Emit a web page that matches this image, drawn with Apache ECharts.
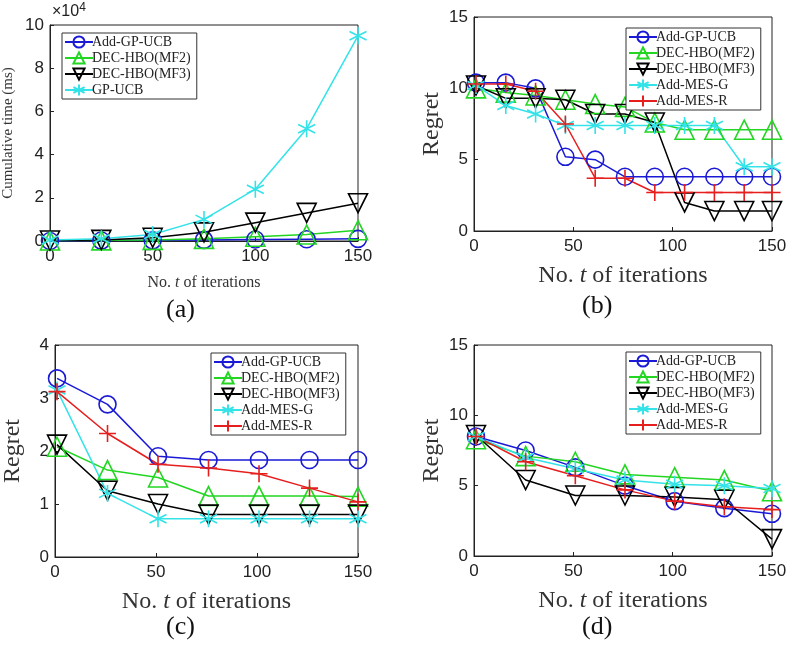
<!DOCTYPE html>
<html><head><meta charset="utf-8">
<script src="https://cdn.jsdelivr.net/npm/echarts@6/dist/echarts.min.js"></script>
<style>html,body{margin:0;padding:0;background:#fff}#c{width:790px;height:656px}</style>
</head><body><div id="c"></div>
<script>
// Panel (a): cumulative time, units of 1e4 ms
const xA = [0, 25, 50, 75, 100, 125, 150];
const aAddGP = [0, 0.02, 0.03, 0.05, 0.07, 0.08, 0.1];
const aMF2 = [0.02, 0.03, 0.05, 0.1, 0.2, 0.3, 0.5];
const aMF3 = [0.02, 0.05, 0.15, 0.4, 0.85, 1.3, 1.75];
const aGP = [0.05, 0.1, 0.3, 1.0, 2.4, 5.2, 9.5];
// Panel (b)
const xB = [1, 16, 31, 46, 61, 76, 91, 106, 121, 136, 150];
const bAddGP = [10.4, 10.4, 10.0, 5.2, 5.0, 3.8, 3.8, 3.8, 3.8, 3.8, 3.8];
const bMF2 = [10.0, 9.7, 9.5, 9.2, 8.9, 8.7, 7.6, 7.1, 7.1, 7.1, 7.1];
const bMF3 = [10.2, 9.3, 9.3, 9.2, 8.2, 8.2, 7.6, 2.0, 1.4, 1.4, 1.4];
const bMESG = [10.2, 8.8, 8.2, 7.4, 7.4, 7.4, 7.4, 7.4, 7.4, 4.5, 4.5];
const bMESR = [10.3, 10.3, 9.8, 7.5, 3.7, 3.7, 2.7, 2.7, 2.7, 2.7, 2.7];
// Panels (c), (d)
const xCD = [1, 26, 51, 76, 101, 126, 150];
const cAddGP = [3.37, 2.88, 1.9, 1.83, 1.83, 1.83, 1.83];
const cMF2 = [2.08, 1.64, 1.5, 1.15, 1.15, 1.15, 1.14];
const cMF3 = [2.12, 1.25, 1.0, 0.8, 0.8, 0.8, 0.8];
const cMESG = [3.15, 1.2, 0.72, 0.72, 0.72, 0.72, 0.72];
const cMESR = [3.12, 2.33, 1.75, 1.68, 1.57, 1.3, 1.04];
const dAddGP = [8.5, 7.5, 6.3, 5.0, 3.9, 3.4, 3.0];
const dMF2 = [8.3, 7.1, 6.7, 5.8, 5.6, 5.4, 4.6];
const dMF3 = [8.6, 5.4, 4.3, 4.3, 4.2, 4.0, 1.2];
const dMESG = [8.5, 7.0, 6.2, 5.4, 5.1, 5.0, 4.8];
const dMESR = [8.5, 6.7, 5.7, 4.7, 3.9, 3.5, 3.3];

const sty = {
  'Add-GP-UCB': {c: '#1a1ad6', s: 'circle', r: 0},
  'DEC-HBO(MF2)': {c: '#22d622', s: 'triangle', r: 0},
  'DEC-HBO(MF3)': {c: '#000000', s: 'triangle', r: 180},
  'Add-MES-G': {c: '#33e3e8', s: 'path://M0,-1L0,1M-0.87,-0.5L0.87,0.5M-0.87,0.5L0.87,-0.5', r: 0},
  'GP-UCB': {c: '#33e3e8', s: 'path://M0,-1L0,1M-0.87,-0.5L0.87,0.5M-0.87,0.5L0.87,-0.5', r: 0},
  'Add-MES-R': {c: '#e61e1e', s: 'path://M0,-1L0,1M-1,0L1,0', r: 0}
};
function ser(name, xs, ys, idx) {
  const st = sty[name];
  return {
    type: 'line', name, xAxisIndex: idx, yAxisIndex: idx,
    data: xs.map((x, i) => [x, ys[i]]),
    symbol: st.s, symbolRotate: st.r, symbolSize: name.startsWith('DEC') ? 19 : 17,
    showSymbol: true,
    lineStyle: {color: st.c, width: 1.5},
    itemStyle: {color: 'rgba(0,0,0,0)', borderColor: st.c, borderWidth: 1.6},
    emphasis: {disabled: true}, animation: false
  };
}
const grids = [
  {left: 50, top: 25, width: 308, height: 216},
  {left: 474, top: 17, width: 298, height: 214},
  {left: 50, top: 345, width: 308, height: 212},
  {left: 474, top: 345, width: 298, height: 211}
];
const yConf = [
  {max: 10, interval: 2, name: 'Cumulative time (ms)', fs: 15, gap: 34},
  {max: 15, interval: 5, name: 'Regret', fs: 24, gap: 30},
  {max: 4, interval: 1, name: 'Regret', fs: 24, gap: 30},
  {max: 15, interval: 5, name: 'Regret', fs: 24, gap: 30}
];
const xAxis = grids.map((g, i) => ({
  type: 'value', gridIndex: i, min: 0, max: 150, interval: 50,
  name: '{n|No. }{t|t}{n| of iterations}', nameLocation: 'middle', nameGap: i === 0 ? 34 : 33,
  nameTextStyle: {rich: {
    n: {fontFamily: 'Liberation Serif', fontSize: i === 0 ? 16 : 24, color: '#333'},
    t: {fontFamily: 'Liberation Serif', fontStyle: 'italic', fontSize: i === 0 ? 16 : 24, color: '#333'}}},
  axisLine: {show: true, lineStyle: {color: '#222'}},
  axisTick: {inside: true, length: 4, lineStyle: {color: '#222'}},
  axisLabel: {fontFamily: 'Liberation Sans', fontSize: 17, color: '#222', margin: 7},
  splitLine: {show: false}
}));
const yAxis = grids.map((g, i) => ({
  type: 'value', gridIndex: i, min: 0, max: yConf[i].max, interval: yConf[i].interval,
  name: yConf[i].name, nameLocation: 'middle', nameGap: yConf[i].gap,
  nameTextStyle: {fontFamily: 'Liberation Serif', fontSize: yConf[i].fs, color: '#333'},
  axisLine: {show: true, lineStyle: {color: '#222'}},
  axisTick: {inside: true, length: 4, lineStyle: {color: '#222'}},
  axisLabel: {fontFamily: 'Liberation Sans', fontSize: 17, color: '#222', margin: 6},
  splitLine: {show: false}
}));
const series = [
  ser('Add-GP-UCB', xA, aAddGP, 0), ser('DEC-HBO(MF2)', xA, aMF2, 0), ser('DEC-HBO(MF3)', xA, aMF3, 0), ser('GP-UCB', xA, aGP, 0),
  ser('Add-GP-UCB', xB, bAddGP, 1), ser('DEC-HBO(MF2)', xB, bMF2, 1), ser('DEC-HBO(MF3)', xB, bMF3, 1), ser('Add-MES-G', xB, bMESG, 1), ser('Add-MES-R', xB, bMESR, 1),
  ser('Add-GP-UCB', xCD, cAddGP, 2), ser('DEC-HBO(MF2)', xCD, cMF2, 2), ser('DEC-HBO(MF3)', xCD, cMF3, 2), ser('Add-MES-G', xCD, cMESG, 2), ser('Add-MES-R', xCD, cMESR, 2),
  ser('Add-GP-UCB', xCD, dAddGP, 3), ser('DEC-HBO(MF2)', xCD, dMF2, 3), ser('DEC-HBO(MF3)', xCD, dMF3, 3), ser('Add-MES-G', xCD, dMESG, 3), ser('Add-MES-R', xCD, dMESR, 3)
];
function leg(left, top, data) {
  return {left, top, data, orient: 'vertical', itemGap: 2, itemWidth: 28, itemHeight: 14,
    selectedMode: false, borderColor: '#333', borderWidth: 1, padding: [2, 6, 2, 2],
    backgroundColor: '#fff',
    textStyle: {fontFamily: 'Liberation Serif', fontSize: 14, color: '#222', padding: [0, 0, 0, -6]}};
}
const four = ['Add-GP-UCB', 'DEC-HBO(MF2)', 'DEC-HBO(MF3)', 'GP-UCB'];
const five = ['Add-GP-UCB', 'DEC-HBO(MF2)', 'DEC-HBO(MF3)', 'Add-MES-G', 'Add-MES-R'];
const capStyle = {fontFamily: 'Liberation Serif', fontSize: 26, fill: '#111'};
const chart = echarts.init(document.getElementById('c'));
chart.setOption({
  animation: false,
  grid: grids.map(g => Object.assign({show: true, borderColor: '#222', borderWidth: 1, backgroundColor: '#fff'}, g)),
  xAxis, yAxis, series,
  legend: [leg(62, 33, four), leg(626, 28, five), leg(211, 353, five), leg(626, 352, five)],
  graphic: [
    {type: 'text', left: 52, top: 2, style: {text: '{a|×10}{b|4}', rich: {a: {fontFamily: 'Liberation Sans', fontSize: 16, fill: '#222'}, b: {fontFamily: 'Liberation Sans', fontSize: 12, fill: '#222', verticalAlign: 'top', padding: [0, 0, 8, 0]}}}},
    {type: 'text', left: 166, top: 297, style: Object.assign({text: '(a)'}, capStyle)},
    {type: 'text', left: 582, top: 293, style: Object.assign({text: '(b)'}, capStyle)},
    {type: 'text', left: 166, top: 614, style: Object.assign({text: '(c)'}, capStyle)},
    {type: 'text', left: 582, top: 614, style: Object.assign({text: '(d)'}, capStyle)}
  ]
});
</script></body></html>
